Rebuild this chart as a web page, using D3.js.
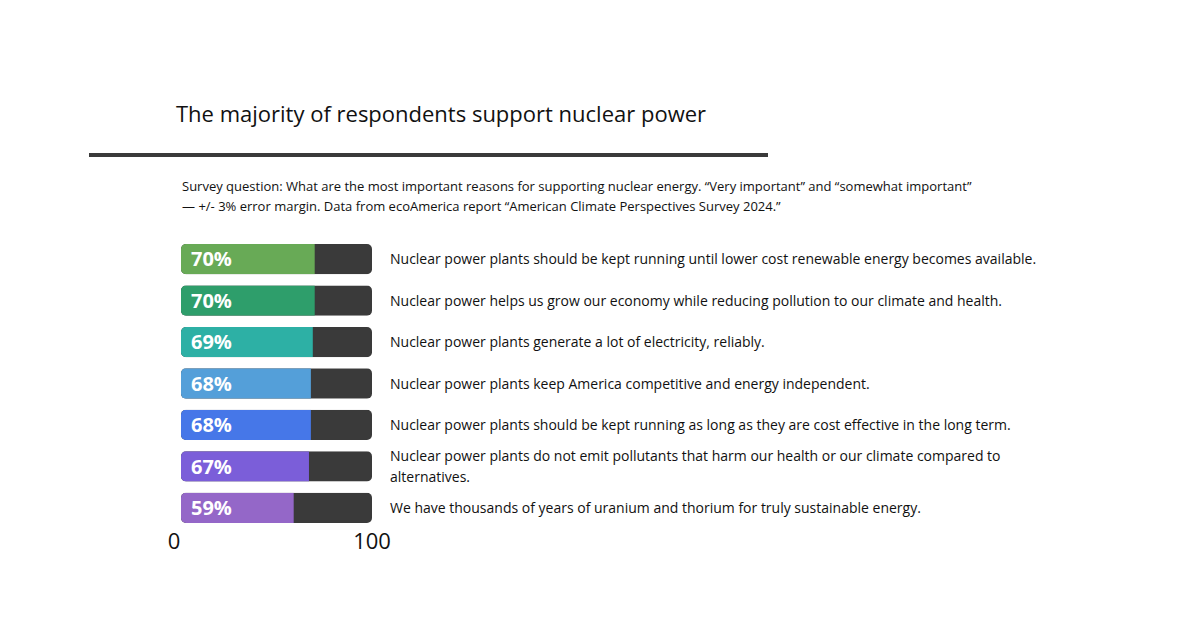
<!DOCTYPE html>
<html><head><meta charset="utf-8">
<script src="https://cdn.jsdelivr.net/npm/d3@7"></script>
<style>body{margin:0;background:#fff}svg{font-family:"Open Sans",sans-serif}</style>
</head><body><svg id="c" width="1200" height="627"></svg>
<script>
const values = [70, 70, 69, 68, 68, 67, 59];
const labels = [
 ["Nuclear power plants should be kept running until lower cost renewable energy becomes available."],
 ["Nuclear power helps us grow our economy while reducing pollution to our climate and health."],
 ["Nuclear power plants generate a lot of electricity, reliably."],
 ["Nuclear power plants keep America competitive and energy independent."],
 ["Nuclear power plants should be kept running as long as they are cost effective in the long term."],
 ["Nuclear power plants do not emit pollutants that harm our health or our climate compared to","alternatives."],
 ["We have thousands of years of uranium and thorium for truly sustainable energy."]
];
const colors = ["#68aa56","#2e9e6b","#2db0a5","#549fd9","#4677e8","#7b5ed9","#9467c8"];
const ticks = [0, 100];

const svg = d3.select("#c");
svg.append("text").attr("x",176).attr("y",122).attr("font-size",22).attr("fill","#111").text("The majority of respondents support nuclear power");
svg.append("rect").attr("x",89).attr("y",153).attr("width",679).attr("height",4).attr("fill","#3a3a3a");
svg.append("text").attr("x",182).attr("y",191).attr("font-size",13).attr("fill","#111").text("Survey question:  What are the most important reasons for supporting nuclear energy. \u201cVery important\u201d and \u201csomewhat important\u201d");
svg.append("text").attr("x",182).attr("y",211).attr("font-size",13).attr("fill","#111").text(" \u2014 +/- 3% error margin. Data from ecoAmerica report \u201cAmerican Climate Perspectives Survey 2024.\u201d");

const x = d3.scaleLinear().domain([0,100]).range([181,372]);
const y = d3.scaleBand().domain(d3.range(values.length)).range([244,523]).paddingInner(0.27).paddingOuter(0);
const g = svg.append("g");
values.forEach((v,i)=>{
  const cp = "cp"+i;
  g.append("clipPath").attr("id",cp).append("rect").attr("x",x(0)).attr("y",y(i)).attr("width",x(100)-x(0)).attr("height",y.bandwidth()).attr("rx",5);
  const gg = g.append("g").attr("clip-path",`url(#${cp})`);
  gg.append("rect").attr("x",x(0)).attr("y",y(i)).attr("width",x(100)-x(0)).attr("height",y.bandwidth()).attr("fill","#3a3a3a");
  gg.append("rect").attr("x",x(0)).attr("y",y(i)).attr("width",x(v)-x(0)).attr("height",y.bandwidth()).attr("fill",colors[i]);
  g.append("text").attr("x",x(0)+10).attr("y",y(i)+y.bandwidth()/2).attr("dy","0.36em").attr("font-size",20).attr("font-weight","bold").attr("fill","#fff").text(v+"%");
  const ls = labels[i], lh = 21;
  ls.forEach((t,j)=>{
    g.append("text").attr("x",390).attr("y",y(i)+y.bandwidth()/2+(j-(ls.length-1)/2)*lh).attr("dy","0.36em").attr("font-size",14).attr("fill","#111").text(t);
  });
});
ticks.forEach(t=>{
  svg.append("text").attr("x",x(t)+(t===0?-7:0)).attr("y",549).attr("text-anchor","middle").attr("font-size",22).attr("fill","#111").text(t);
});
</script></body></html>
